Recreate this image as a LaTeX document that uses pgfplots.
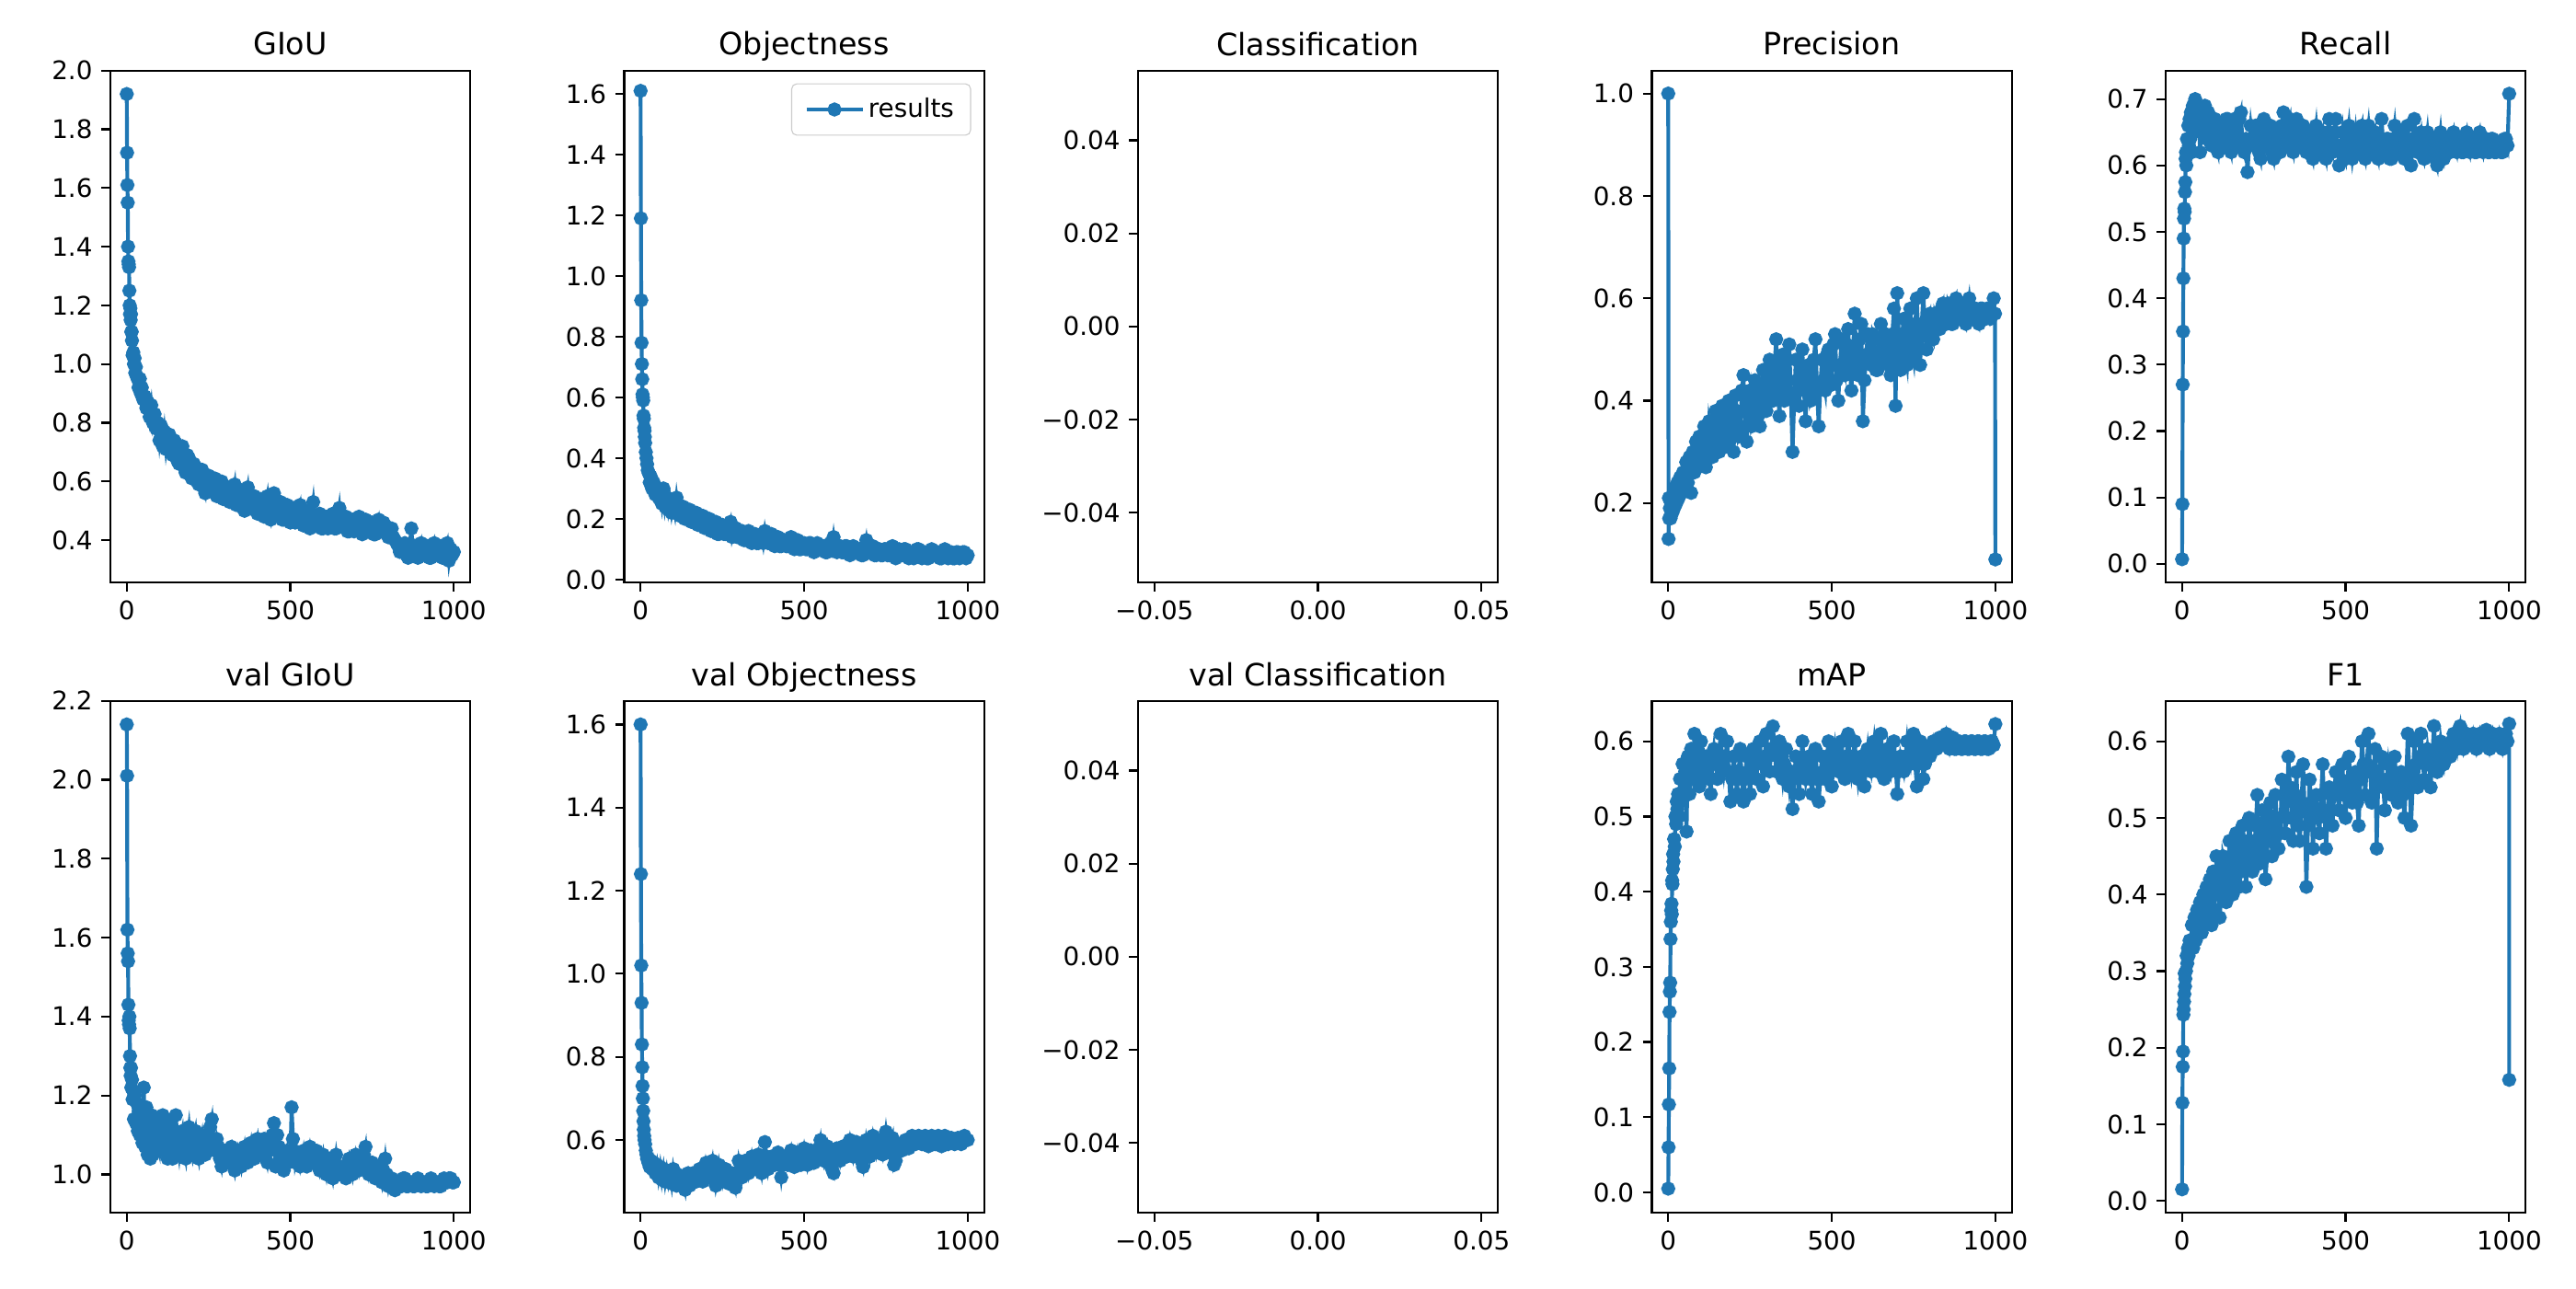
\documentclass[border=0pt]{standalone}
\usepackage{fontspec}
\setmainfont{DejaVu Sans}
\usepackage{pgfplots}
\pgfplotsset{compat=1.18}

\definecolor{mplblue}{RGB}{31,119,180}
\definecolor{legframe}{RGB}{204,204,204}

\pgfplotsset{
  mpl/.style={
    scale only axis, width=140.8pt, height=200.3pt, anchor=south west,
    axis line style={line width=0.8pt},
    tick style={black, line width=0.8pt},
    major tick length=3.5pt, tick align=outside, tick pos=left,
    ticklabel style={font=\fontsize{10}{12}\selectfont},
    title style={font=\fontsize{12}{14}\selectfont, anchor=base},
    xmin=-50, xmax=1050, xtick={0,500,1000}, xticklabels={0,500,1000},
    scaled ticks=false, clip=true,
  },
  run/.style={mplblue, line width=1.5pt, mark=*, mark size=2pt,
    mark options={solid, fill=mplblue, draw=none}},
}

\begin{document}
\begin{tikzpicture}
\path[use as bounding box, fill=white] (0,0) rectangle (1008pt,504pt);

% GIoU
\begin{axis}[mpl, at={(43.2pt,276.1pt)}, title={GIoU},
  ymin=0.256, ymax=2.0, ytick={0.4,0.6,...,2.0},
  yticklabels={0.4,0.6,0.8,1.0,1.2,1.4,1.6,1.8,2.0}]
\addplot[run] coordinates {
(0,1.92) (1,1.72) (2,1.61) (3,1.55) (4,1.40) (5,1.35) (6,1.34) (7,1.33) (8,1.25) (9,1.20)
(10,1.17) (11,1.19) (12,1.15) (13,1.17) (14,1.11) (15,1.11) (16,1.08) (18,1.03) (20,1.04) (22,1.00)
(24,1.02) (26,0.97) (28,0.99) (30,0.96) (33,0.95) (36,0.92) (40,0.95) (43,0.90) (46,0.92) (50,0.88)
(55,0.89) (60,0.85) (65,0.87) (70,0.82) (75,0.86) (80,0.80) (85,0.83) (90,0.78) (95,0.80)
(100,0.74) (105,0.79) (110,0.72) (115,0.77) (120,0.71) (125,0.75) (130,0.76) (135,0.70) (140,0.69) (145,0.74)
(150,0.73) (155,0.67) (160,0.66) (165,0.71) (170,0.72) (175,0.65) (180,0.63) (185,0.69) (190,0.68) (195,0.62)
(200,0.61) (205,0.66) (210,0.65) (215,0.60) (220,0.59) (225,0.63) (230,0.64) (235,0.58) (240,0.56) (245,0.61)
(250,0.62) (255,0.57) (260,0.58) (265,0.61) (270,0.61) (275,0.55) (280,0.55) (285,0.59) (290,0.60) (295,0.54)
(300,0.54) (305,0.57) (310,0.58) (315,0.53) (320,0.53) (325,0.56) (330,0.59) (335,0.52) (340,0.52) (345,0.56)
(350,0.57) (355,0.51) (360,0.50) (365,0.55) (370,0.58) (375,0.52) (380,0.51) (385,0.54) (390,0.55) (395,0.50)
(400,0.49) (405,0.53) (410,0.54) (415,0.49) (420,0.48) (425,0.52) (430,0.55) (435,0.49) (440,0.47) (445,0.51)
(450,0.56) (455,0.49) (460,0.50) (465,0.52) (470,0.53) (475,0.47) (480,0.47) (485,0.51) (490,0.52) (495,0.47)
(500,0.46) (505,0.50) (510,0.51) (515,0.46) (520,0.47) (525,0.50) (530,0.52) (535,0.46) (540,0.45) (545,0.49)
(550,0.50) (555,0.45) (560,0.44) (565,0.49) (570,0.53) (575,0.46) (580,0.45) (585,0.48) (590,0.49) (595,0.44)
(600,0.44) (605,0.47) (610,0.48) (615,0.44) (620,0.45) (625,0.48) (630,0.49) (635,0.44) (640,0.44) (645,0.47)
(650,0.51) (655,0.45) (660,0.45) (665,0.48) (670,0.48) (675,0.43) (680,0.43) (685,0.46) (690,0.47) (695,0.43)
(700,0.44) (705,0.47) (710,0.48) (715,0.43) (720,0.42) (725,0.46) (730,0.47) (735,0.43) (740,0.43) (745,0.46)
(750,0.46) (755,0.42) (760,0.42) (765,0.45) (770,0.47) (775,0.43) (780,0.43) (785,0.46) (790,0.45) (795,0.42)
(800,0.41) (805,0.44) (810,0.44) (815,0.41) (820,0.40) (825,0.39) (830,0.38) (835,0.36) (840,0.37) (845,0.38)
(850,0.39) (855,0.35) (860,0.34) (865,0.38) (870,0.44) (875,0.36) (880,0.38) (885,0.35) (890,0.34) (895,0.37)
(900,0.39) (905,0.35) (910,0.35) (915,0.38) (920,0.38) (925,0.34) (930,0.34) (935,0.37) (940,0.39) (945,0.35)
(950,0.35) (955,0.37) (960,0.38) (965,0.34) (970,0.34) (975,0.37) (980,0.39) (985,0.33) (990,0.37) (995,0.35)
(1000,0.36)
};
\end{axis}

% Objectness
\begin{axis}[mpl, at={(244.26pt,276.1pt)}, title={Objectness},
  ymin=-0.0096, ymax=1.677, ytick={0,0.2,...,1.6},
  yticklabels={0.0,0.2,0.4,0.6,0.8,1.0,1.2,1.4,1.6},
  legend style={at={(0.964,0.975)}, anchor=north east, draw=legframe,
    rounded corners=2pt, font=\fontsize{10}{12}\selectfont,
    inner xsep=5pt, inner ysep=4pt, nodes={inner sep=1.5pt},
    /tikz/every even column/.append style={column sep=9pt}},
  legend image code/.code={\draw[mark repeat=2, mark phase=2, #1]
    plot coordinates {(0pt,0pt) (11pt,0pt) (22pt,0pt)};}]
\addplot[run] coordinates {
(0,1.61) (1,1.19) (2,0.92) (3,0.78) (4,0.71) (5,0.66) (6,0.61) (7,0.60) (8,0.59) (9,0.54)
(10,0.53) (11,0.50) (12,0.49) (13,0.47) (14,0.45) (16,0.42) (18,0.40) (20,0.38) (22,0.36) (25,0.35)
(28,0.32) (31,0.34) (35,0.30) (40,0.32) (45,0.28) (50,0.30) (55,0.27) (60,0.29) (65,0.25) (70,0.30)
(75,0.24) (80,0.27) (85,0.23) (90,0.26) (95,0.22)
(100,0.25) (105,0.22) (110,0.27) (115,0.23) (120,0.21) (125,0.24) (130,0.24) (135,0.20) (140,0.20) (145,0.23)
(150,0.23) (155,0.19) (160,0.19) (165,0.22) (170,0.22) (175,0.18) (180,0.18) (185,0.21) (190,0.21) (195,0.17)
(200,0.17) (205,0.20) (210,0.20) (215,0.16) (220,0.16) (225,0.19) (230,0.19) (235,0.15) (240,0.15) (245,0.18)
(250,0.18) (255,0.15) (260,0.15) (265,0.17) (270,0.17) (275,0.19) (280,0.14) (285,0.16) (290,0.17) (295,0.14)
(300,0.14) (305,0.16) (310,0.16) (315,0.13) (320,0.13) (325,0.15) (330,0.16) (335,0.13) (340,0.12) (345,0.14)
(350,0.15) (355,0.12) (360,0.12) (365,0.14) (370,0.15) (375,0.12) (380,0.16) (385,0.13) (390,0.12) (395,0.14)
(400,0.15) (405,0.12) (410,0.11) (415,0.13) (420,0.14) (425,0.11) (430,0.11) (435,0.13) (440,0.13) (445,0.11)
(450,0.11) (455,0.13) (460,0.14) (465,0.11) (470,0.10) (475,0.12) (480,0.13) (485,0.10) (490,0.10) (495,0.12)
(500,0.12) (505,0.10) (510,0.10) (515,0.12) (520,0.12) (525,0.10) (530,0.09) (535,0.11) (540,0.12) (545,0.10)
(550,0.10) (555,0.11) (560,0.11) (565,0.09) (570,0.09) (575,0.11) (580,0.12) (585,0.10) (590,0.14) (595,0.10)
(600,0.09) (605,0.11) (610,0.11) (615,0.09) (620,0.09) (625,0.11) (630,0.11) (635,0.09) (640,0.08) (645,0.10)
(650,0.11) (655,0.09) (660,0.09) (665,0.10) (670,0.10) (675,0.08) (680,0.08) (685,0.10) (690,0.13) (695,0.09)
(700,0.09) (705,0.10) (710,0.11) (715,0.08) (720,0.08) (725,0.10) (730,0.10) (735,0.08) (740,0.08) (745,0.10)
(750,0.10) (755,0.08) (760,0.08) (765,0.10) (770,0.11) (775,0.08) (780,0.07) (785,0.09) (790,0.10) (795,0.08)
(800,0.08) (805,0.10) (810,0.10) (815,0.08) (820,0.07) (825,0.09) (830,0.09) (835,0.07) (840,0.08) (845,0.10)
(850,0.10) (855,0.08) (860,0.07) (865,0.09) (870,0.09) (875,0.07) (880,0.07) (885,0.09) (890,0.10) (895,0.08)
(900,0.08) (905,0.09) (910,0.09) (915,0.07) (920,0.07) (925,0.09) (930,0.10) (935,0.08) (940,0.07) (945,0.09)
(950,0.09) (955,0.07) (960,0.07) (965,0.09) (970,0.09) (975,0.07) (980,0.08) (985,0.09) (990,0.09) (995,0.07)
(1000,0.08)
};
\addlegendentry{results}
\end{axis}

% Classification (no data)
\begin{axis}[mpl, at={(445.32pt,276.1pt)}, title={Classification},
  xmin=-0.055, xmax=0.055, ymin=-0.055, ymax=0.055,
  xtick={-0.05,0,0.05}, xticklabels={−0.05,0.00,0.05},
  ytick={-0.04,-0.02,0,0.02,0.04}, yticklabels={−0.04,−0.02,0.00,0.02,0.04}]
\end{axis}

% Precision
\begin{axis}[mpl, at={(646.38pt,276.1pt)}, title={Precision},
  ymin=0.045, ymax=1.045, ytick={0.2,0.4,0.6,0.8,1.0},
  yticklabels={0.2,0.4,0.6,0.8,1.0}]
\addplot[run] coordinates {
(0,1.00) (1,0.13) (2,0.21) (3,0.17) (5,0.19) (7,0.17) (9,0.20) (12,0.18) (15,0.21) (18,0.19)
(21,0.23) (25,0.20) (28,0.24) (32,0.21) (36,0.25) (40,0.22) (45,0.26) (50,0.23) (55,0.28) (60,0.24)
(65,0.29) (70,0.22) (75,0.30) (80,0.26) (85,0.32) (90,0.27) (95,0.33)
(100,0.28) (105,0.33) (110,0.35) (115,0.27) (120,0.30) (125,0.36) (130,0.34) (135,0.29) (140,0.30) (145,0.38)
(150,0.36) (155,0.30) (160,0.31) (165,0.39) (170,0.37) (175,0.31) (180,0.32) (185,0.40) (190,0.38) (195,0.33)
(200,0.30) (205,0.41) (210,0.38) (215,0.33) (220,0.34) (225,0.42) (230,0.45) (235,0.35) (240,0.32) (245,0.40)
(250,0.42) (255,0.35) (260,0.36) (265,0.44) (270,0.41) (275,0.37) (280,0.35) (285,0.43) (290,0.46) (295,0.38)
(300,0.38) (305,0.45) (310,0.48) (315,0.40) (320,0.40) (325,0.47) (330,0.52) (335,0.42) (340,0.37) (345,0.45)
(350,0.49) (355,0.40) (360,0.42) (365,0.48) (370,0.51) (375,0.41) (380,0.30) (385,0.40) (390,0.48) (395,0.44)
(400,0.39) (405,0.46) (410,0.50) (415,0.42) (420,0.36) (425,0.44) (430,0.47) (435,0.40) (440,0.41) (445,0.48)
(450,0.52) (455,0.42) (460,0.35) (465,0.43) (470,0.48) (475,0.44) (480,0.42) (485,0.49) (490,0.50) (495,0.43)
(500,0.44) (505,0.51) (510,0.53) (515,0.44) (520,0.40) (525,0.47) (530,0.52) (535,0.46) (540,0.45) (545,0.51)
(550,0.54) (555,0.46) (560,0.42) (565,0.50) (570,0.57) (575,0.48) (580,0.45) (585,0.52) (590,0.55) (595,0.36)
(600,0.44) (605,0.49) (610,0.53) (615,0.48) (620,0.47) (625,0.53) (630,0.52) (635,0.46) (640,0.46) (645,0.52)
(650,0.55) (655,0.49) (660,0.48) (665,0.53) (670,0.52) (675,0.47) (680,0.45) (685,0.53) (690,0.58) (695,0.39)
(700,0.61) (705,0.52) (710,0.46) (715,0.53) (720,0.56) (725,0.49) (730,0.47) (735,0.54) (740,0.58) (745,0.50)
(750,0.48) (755,0.55) (760,0.60) (765,0.52) (770,0.47) (775,0.55) (780,0.61) (785,0.53) (790,0.50) (795,0.56)
(800,0.57) (805,0.53) (810,0.52) (815,0.57) (820,0.56) (825,0.54) (830,0.54) (835,0.58) (840,0.59) (845,0.55)
(850,0.55) (855,0.59) (860,0.58) (865,0.55) (870,0.55) (875,0.59) (880,0.60) (885,0.56) (890,0.56) (895,0.59)
(900,0.59) (905,0.56) (910,0.55) (915,0.58) (920,0.60) (925,0.57) (930,0.56) (935,0.58) (940,0.58) (945,0.56)
(950,0.55) (955,0.58) (960,0.58) (965,0.56) (970,0.56) (975,0.58) (980,0.58) (985,0.56) (990,0.57) (995,0.60)
(999,0.57) (1000,0.09)
};
\end{axis}

% Recall
\begin{axis}[mpl, at={(847.44pt,276.1pt)}, title={Recall},
  ymin=-0.028, ymax=0.743, ytick={0,0.1,...,0.7},
  yticklabels={0.0,0.1,0.2,0.3,0.4,0.5,0.6,0.7}]
\addplot[run] coordinates {
(0,0.007) (1,0.09) (2,0.27) (3,0.35) (4,0.43) (5,0.49) (6,0.52) (7,0.535) (8,0.53) (9,0.56)
(10,0.575) (11,0.61) (12,0.62) (13,0.60) (15,0.64) (17,0.62) (19,0.66) (21,0.63) (23,0.67) (25,0.64)
(27,0.68) (30,0.62) (33,0.69) (36,0.65)
(40,0.70) (45,0.66) (50,0.69) (55,0.62) (60,0.68) (65,0.65) (70,0.69) (75,0.64) (80,0.68) (85,0.66)
(90,0.63) (95,0.67) (100,0.67) (105,0.63) (110,0.62) (115,0.66) (120,0.66) (125,0.63) (130,0.63) (135,0.67)
(140,0.67) (145,0.63) (150,0.62) (155,0.66) (160,0.67) (165,0.63) (170,0.64) (175,0.67) (180,0.68) (185,0.63)
(190,0.62) (195,0.64) (200,0.59) (205,0.63) (210,0.66) (215,0.64) (220,0.63) (225,0.66) (230,0.66) (235,0.62)
(240,0.61) (245,0.65) (250,0.67) (255,0.63) (260,0.63) (265,0.66) (270,0.66) (275,0.62) (280,0.61) (285,0.64)
(290,0.65) (295,0.62) (300,0.62) (305,0.66) (310,0.68) (315,0.64) (320,0.63) (325,0.66) (330,0.67) (335,0.63)
(340,0.62) (345,0.65) (350,0.67) (355,0.63) (360,0.63) (365,0.66) (370,0.66) (375,0.63) (380,0.62) (385,0.64)
(390,0.65) (395,0.62) (400,0.61) (405,0.64) (410,0.66) (415,0.63) (420,0.62) (425,0.64) (430,0.65) (435,0.62)
(440,0.61) (445,0.65) (450,0.67) (455,0.63) (460,0.62) (465,0.65) (470,0.67) (475,0.63) (480,0.60) (485,0.63)
(490,0.65) (495,0.62) (500,0.61) (505,0.64) (510,0.66) (515,0.63) (520,0.61) (525,0.63) (530,0.65) (535,0.62)
(540,0.62) (545,0.65) (550,0.66) (555,0.62) (560,0.61) (565,0.64) (570,0.66) (575,0.63) (580,0.62) (585,0.64)
(590,0.65) (595,0.62) (600,0.61) (605,0.64) (610,0.67) (615,0.63) (620,0.62) (625,0.64) (630,0.64) (635,0.61)
(640,0.61) (645,0.64) (650,0.66) (655,0.63) (660,0.62) (665,0.64) (670,0.65) (675,0.62) (680,0.61) (685,0.64)
(690,0.66) (695,0.62) (700,0.60) (705,0.64) (710,0.67) (715,0.63) (720,0.62) (725,0.64) (730,0.65) (735,0.62)
(740,0.61) (745,0.63) (750,0.65) (755,0.62) (760,0.62) (765,0.64) (770,0.64) (775,0.61) (780,0.60) (785,0.63)
(790,0.65) (795,0.62) (800,0.61) (805,0.63) (810,0.64) (815,0.62) (820,0.62) (825,0.64) (830,0.65) (835,0.63)
(840,0.62) (845,0.64) (850,0.64) (855,0.62) (860,0.62) (865,0.64) (870,0.65) (875,0.63) (880,0.62) (885,0.64)
(890,0.64) (895,0.62) (900,0.62) (905,0.64) (910,0.65) (915,0.63) (920,0.62) (925,0.64) (930,0.64) (935,0.62)
(940,0.62) (945,0.64) (950,0.64) (955,0.62) (960,0.62) (965,0.63) (970,0.63) (975,0.62) (980,0.62) (985,0.64)
(990,0.64) (995,0.63) (1000,0.708)
};
\end{axis}

% val GIoU
\begin{axis}[mpl, at={(43.2pt,29.5pt)}, title={val GIoU},
  ymin=0.903, ymax=2.2, ytick={1.0,1.2,...,2.2},
  yticklabels={1.0,1.2,1.4,1.6,1.8,2.0,2.2}]
\addplot[run] coordinates {
(0,2.14) (1,2.01) (2,1.62) (3,1.56) (4,1.54) (5,1.43) (6,1.39) (7,1.38) (8,1.40) (9,1.37)
(10,1.30) (11,1.27) (12,1.25) (13,1.27) (14,1.22) (16,1.24) (18,1.19) (20,1.21) (22,1.14) (25,1.20)
(28,1.13) (31,1.18) (34,1.11) (37,1.16) (40,1.10) (44,1.14) (48,1.08) (52,1.22) (56,1.07) (60,1.17)
(64,1.05) (68,1.12) (72,1.04) (76,1.15)
(80,1.05) (85,1.10) (90,1.14) (95,1.08) (100,1.06) (105,1.11) (110,1.15) (115,1.10) (120,1.08) (125,1.04)
(130,1.13) (135,1.09) (140,1.04) (145,1.10) (150,1.15) (155,1.08) (160,1.05) (165,1.09) (170,1.11) (175,1.06)
(180,1.04) (185,1.09) (190,1.12) (195,1.07) (200,1.05) (205,1.09) (210,1.11) (215,1.06) (220,1.04) (225,1.08)
(230,1.10) (235,1.06) (240,1.05) (245,1.08) (250,1.09) (255,1.12) (260,1.14) (265,1.08) (270,1.06) (275,1.09)
(280,1.07) (285,1.04) (290,1.02) (295,1.05) (300,1.06) (305,1.04) (310,1.03) (315,1.06) (320,1.07) (325,1.03)
(330,1.01) (335,1.04) (340,1.06) (345,1.04) (350,1.02) (355,1.05) (360,1.07) (365,1.04) (370,1.03) (375,1.06)
(380,1.08) (385,1.05) (390,1.04) (395,1.07) (400,1.09) (405,1.06) (410,1.05) (415,1.08) (420,1.09) (425,1.05)
(430,1.03) (435,1.06) (440,1.08) (445,1.10) (450,1.13) (455,1.02) (460,1.10) (465,1.07) (470,1.04) (475,1.02)
(480,1.01) (485,1.04) (490,1.06) (495,1.03) (500,1.04) (504,1.17) (508,1.09) (512,1.06) (515,1.03) (520,1.05)
(525,1.04) (530,1.02) (535,1.04) (540,1.06) (545,1.03) (550,1.02) (555,1.05) (560,1.07) (565,1.05) (570,1.03)
(575,1.05) (580,1.06) (585,1.03) (590,1.01) (595,1.03) (600,1.05) (605,1.02) (610,1.00) (615,1.03) (620,1.04)
(625,1.01) (630,0.99) (635,1.02) (640,1.05) (645,1.02) (650,1.00) (655,1.01) (660,1.02) (665,1.00) (670,0.99)
(675,1.02) (680,1.04) (685,1.02) (690,1.00) (695,1.03) (700,1.05) (705,1.03) (710,1.01) (715,1.03) (720,1.04)
(725,1.05) (730,1.07) (735,1.02) (740,1.00) (745,1.02) (750,1.03) (755,1.00) (760,0.99) (765,1.01) (770,1.02)
(775,1.00) (780,0.98) (785,1.01) (790,1.04) (795,1.00) (800,0.97) (805,0.99) (810,0.99) (815,0.97) (820,0.96)
(825,0.98) (830,0.98) (835,0.97) (840,0.97) (845,0.99) (850,0.99) (855,0.97) (860,0.97) (865,0.98) (870,0.98)
(875,0.97) (880,0.97) (885,0.98) (890,0.99) (895,0.98) (900,0.97) (905,0.98) (910,0.98) (915,0.97) (920,0.97)
(925,0.98) (930,0.99) (935,0.98) (940,0.97) (945,0.98) (950,0.98) (955,0.97) (960,0.97) (965,0.98) (970,0.99)
(975,0.98) (980,0.98) (985,0.99) (990,0.99) (995,0.98) (1000,0.98)
};
\end{axis}

% val Objectness
\begin{axis}[mpl, at={(244.26pt,29.5pt)}, title={val Objectness},
  ymin=0.425, ymax=1.657, ytick={0.6,0.8,...,1.6},
  yticklabels={0.6,0.8,1.0,1.2,1.4,1.6}]
\addplot[run] coordinates {
(0,1.60) (1,1.24) (2,1.02) (3,0.93) (4,0.83) (5,0.775) (6,0.73) (7,0.70) (8,0.67) (9,0.645)
(10,0.625) (11,0.61) (12,0.60) (14,0.59) (16,0.575) (18,0.565) (20,0.555) (24,0.545) (28,0.535) (32,0.55)
(36,0.53) (40,0.545) (45,0.52) (50,0.54) (55,0.51) (60,0.535) (65,0.505) (70,0.53) (75,0.50) (80,0.525)
(85,0.50) (90,0.52) (95,0.495)
(100,0.53) (105,0.51) (110,0.49) (115,0.50) (120,0.515) (125,0.50) (130,0.50) (136,0.48) (140,0.51) (145,0.52)
(150,0.49) (155,0.50) (160,0.52) (165,0.51) (170,0.50) (175,0.52) (180,0.53) (185,0.51) (190,0.50) (195,0.52)
(200,0.545) (205,0.53) (210,0.51) (215,0.53) (220,0.55) (225,0.52) (230,0.49) (235,0.51) (240,0.54) (245,0.52)
(250,0.50) (255,0.52) (260,0.53) (265,0.51) (270,0.495) (275,0.51) (280,0.52) (285,0.50) (290,0.485) (295,0.52)
(300,0.55) (305,0.53) (310,0.51) (315,0.53) (320,0.55) (325,0.54) (330,0.52) (335,0.54) (340,0.56) (345,0.54)
(350,0.53) (355,0.55) (360,0.565) (365,0.54) (370,0.52) (375,0.55) (380,0.595) (385,0.56) (390,0.53) (395,0.55)
(400,0.56) (405,0.55) (410,0.54) (415,0.56) (420,0.57) (425,0.54) (430,0.51) (435,0.54) (440,0.56) (445,0.55)
(450,0.54) (455,0.56) (460,0.575) (465,0.55) (470,0.535) (475,0.55) (480,0.57) (485,0.55) (490,0.54) (495,0.56)
(500,0.58) (505,0.56) (510,0.54) (515,0.56) (520,0.575) (525,0.56) (530,0.545) (535,0.56) (540,0.57) (545,0.58)
(550,0.60) (555,0.57) (560,0.55) (565,0.57) (570,0.585) (575,0.56) (580,0.54) (585,0.53) (590,0.52) (595,0.56)
(600,0.58) (605,0.57) (610,0.55) (615,0.57) (620,0.585) (625,0.57) (630,0.56) (635,0.58) (640,0.60) (645,0.58)
(650,0.56) (655,0.58) (660,0.595) (665,0.58) (670,0.57) (675,0.55) (680,0.535) (685,0.57) (690,0.60) (695,0.58)
(700,0.56) (705,0.59) (710,0.61) (715,0.59) (720,0.57) (725,0.59) (730,0.60) (735,0.58) (740,0.565) (745,0.59)
(750,0.62) (755,0.59) (760,0.57) (765,0.59) (770,0.605) (775,0.54) (780,0.55) (785,0.57) (790,0.59) (795,0.58)
(800,0.575) (805,0.59) (810,0.60) (815,0.59) (820,0.58) (825,0.60) (830,0.61) (835,0.60) (840,0.59) (845,0.60)
(850,0.61) (855,0.60) (860,0.59) (865,0.60) (870,0.61) (875,0.60) (880,0.585) (885,0.60) (890,0.61) (895,0.60)
(900,0.59) (905,0.60) (910,0.61) (915,0.60) (920,0.585) (925,0.60) (930,0.61) (935,0.60) (940,0.59) (945,0.60)
(950,0.605) (955,0.60) (960,0.59) (965,0.60) (970,0.605) (975,0.60) (980,0.59) (985,0.60) (990,0.61) (995,0.60)
(1000,0.60)
};
\end{axis}

% val Classification (no data)
\begin{axis}[mpl, at={(445.32pt,29.5pt)}, title={val Classification},
  xmin=-0.055, xmax=0.055, ymin=-0.055, ymax=0.055,
  xtick={-0.05,0,0.05}, xticklabels={−0.05,0.00,0.05},
  ytick={-0.04,-0.02,0,0.02,0.04}, yticklabels={−0.04,−0.02,0.00,0.02,0.04}]
\end{axis}

% mAP
\begin{axis}[mpl, at={(646.38pt,29.5pt)}, title={mAP},
  ymin=-0.027, ymax=0.654, ytick={0,0.1,...,0.6},
  yticklabels={0.0,0.1,0.2,0.3,0.4,0.5,0.6}]
\addplot[run] coordinates {
(0,0.005) (1,0.06) (2,0.117) (3,0.165) (4,0.24) (5,0.267) (6,0.279) (7,0.337) (8,0.36) (9,0.375)
(10,0.384) (11,0.37) (12,0.415) (13,0.41) (14,0.43) (15,0.45) (16,0.44) (18,0.47) (20,0.46) (22,0.50)
(24,0.49) (26,0.52) (28,0.51) (30,0.53) (33,0.50) (36,0.55) (40,0.52) (44,0.57) (48,0.53) (52,0.56)
(56,0.48)
(60,0.58) (65,0.53) (70,0.59) (75,0.55) (80,0.61) (85,0.56) (90,0.59) (95,0.54) (100,0.60) (105,0.57)
(110,0.55) (115,0.58) (120,0.58) (125,0.55) (130,0.53) (135,0.57) (140,0.59) (145,0.57) (150,0.55) (155,0.58)
(160,0.61) (165,0.58) (170,0.56) (175,0.58) (180,0.60) (185,0.56) (190,0.52) (195,0.55) (200,0.58) (205,0.56)
(210,0.53) (215,0.56) (220,0.59) (225,0.55) (230,0.52) (235,0.55) (240,0.58) (245,0.56) (250,0.53) (255,0.56)
(260,0.59) (265,0.57) (270,0.55) (275,0.58) (280,0.60) (285,0.57) (290,0.54) (295,0.58) (300,0.61) (305,0.58)
(310,0.56) (315,0.59) (320,0.62) (325,0.59) (330,0.56) (335,0.58) (340,0.60) (345,0.57) (350,0.55) (355,0.57)
(360,0.59) (365,0.56) (370,0.54) (375,0.56) (380,0.51) (385,0.55) (390,0.58) (395,0.56) (400,0.53) (405,0.57)
(410,0.60) (415,0.57) (420,0.55) (425,0.57) (430,0.58) (435,0.55) (440,0.53) (445,0.56) (450,0.59) (455,0.55)
(460,0.52) (465,0.55) (470,0.58) (475,0.56) (480,0.55) (485,0.58) (490,0.60) (495,0.57) (500,0.54) (505,0.57)
(510,0.59) (515,0.57) (520,0.56) (525,0.58) (530,0.60) (535,0.57) (540,0.55) (545,0.58) (550,0.61) (555,0.58)
(560,0.56) (565,0.58) (570,0.60) (575,0.57) (580,0.55) (585,0.57) (590,0.58) (595,0.56) (600,0.54) (605,0.57)
(610,0.59) (615,0.57) (620,0.56) (625,0.58) (630,0.60) (635,0.58) (640,0.56) (645,0.59) (650,0.61) (655,0.58)
(660,0.55) (665,0.57) (670,0.59) (675,0.57) (680,0.56) (685,0.58) (690,0.60) (695,0.57) (700,0.53) (705,0.56)
(710,0.58) (715,0.57) (720,0.56) (725,0.58) (730,0.60) (735,0.58) (740,0.57) (745,0.59) (750,0.61) (755,0.57)
(760,0.54) (765,0.57) (770,0.60) (775,0.58) (780,0.55) (785,0.57) (790,0.59) (795,0.58) (800,0.58) (805,0.59)
(810,0.60) (815,0.59) (820,0.59) (825,0.60) (830,0.605) (835,0.60) (840,0.595) (845,0.60) (850,0.61) (855,0.60)
(860,0.59) (865,0.60) (870,0.605) (875,0.59) (880,0.59) (885,0.60) (890,0.60) (895,0.59) (900,0.59) (905,0.60)
(910,0.60) (915,0.59) (920,0.59) (925,0.60) (930,0.60) (935,0.59) (940,0.59) (945,0.60) (950,0.60) (955,0.59)
(960,0.59) (965,0.60) (970,0.60) (975,0.59) (980,0.59) (985,0.60) (990,0.60) (995,0.595) (1000,0.623)
};
\end{axis}

% F1
\begin{axis}[mpl, at={(847.44pt,29.5pt)}, title={F1},
  ymin=-0.0155, ymax=0.653, ytick={0,0.1,...,0.6},
  yticklabels={0.0,0.1,0.2,0.3,0.4,0.5,0.6}]
\addplot[run] coordinates {
(0,0.015) (1,0.128) (2,0.175) (3,0.195) (4,0.243) (5,0.25) (6,0.26) (7,0.27) (8,0.297) (9,0.28)
(10,0.29) (12,0.30) (14,0.32) (16,0.31) (18,0.33) (20,0.32) (23,0.34) (26,0.33) (30,0.36) (34,0.33)
(38,0.37) (42,0.34) (46,0.38) (50,0.35) (55,0.39) (60,0.35) (65,0.40) (70,0.36) (75,0.41) (80,0.37)
(85,0.42) (90,0.36) (95,0.43)
(100,0.38) (105,0.45) (110,0.43) (115,0.37) (120,0.40) (125,0.45) (130,0.44) (135,0.39) (140,0.41) (145,0.47)
(150,0.45) (155,0.40) (160,0.42) (165,0.48) (170,0.46) (175,0.41) (180,0.43) (185,0.49) (190,0.47) (195,0.41)
(200,0.44) (205,0.50) (210,0.47) (215,0.43) (220,0.45) (225,0.49) (230,0.53) (235,0.44) (240,0.46) (245,0.51)
(250,0.49) (255,0.42) (260,0.45) (265,0.50) (270,0.52) (275,0.45) (280,0.47) (285,0.53) (290,0.50) (295,0.46)
(300,0.48) (305,0.55) (310,0.53) (315,0.48) (320,0.50) (325,0.58) (330,0.54) (335,0.50) (340,0.47) (345,0.53)
(350,0.56) (355,0.49) (360,0.47) (365,0.52) (370,0.57) (375,0.51) (380,0.41) (385,0.49) (390,0.55) (395,0.52)
(400,0.46) (405,0.50) (410,0.53) (415,0.50) (420,0.48) (425,0.53) (430,0.57) (435,0.51) (440,0.46) (445,0.50)
(450,0.54) (455,0.51) (460,0.49) (465,0.53) (470,0.56) (475,0.53) (480,0.51) (485,0.55) (490,0.57) (495,0.53)
(500,0.50) (505,0.54) (510,0.58) (515,0.55) (520,0.52) (525,0.54) (530,0.56) (535,0.52) (540,0.49) (545,0.55)
(550,0.60) (555,0.57) (560,0.53) (565,0.57) (570,0.61) (575,0.56) (580,0.52) (585,0.56) (590,0.59) (595,0.46)
(600,0.55) (605,0.58) (610,0.58) (615,0.54) (620,0.51) (625,0.55) (630,0.57) (635,0.55) (640,0.53) (645,0.56)
(650,0.58) (655,0.55) (660,0.52) (665,0.54) (670,0.56) (675,0.53) (680,0.50) (685,0.55) (690,0.61) (695,0.56)
(700,0.49) (705,0.54) (710,0.60) (715,0.57) (720,0.54) (725,0.58) (730,0.61) (735,0.58) (740,0.55) (745,0.57)
(750,0.59) (755,0.57) (760,0.54) (765,0.58) (770,0.62) (775,0.59) (780,0.56) (785,0.58) (790,0.60) (795,0.58)
(800,0.57) (805,0.59) (810,0.59) (815,0.58) (820,0.58) (825,0.60) (830,0.61) (835,0.60) (840,0.59) (845,0.61)
(850,0.62) (855,0.60) (860,0.59) (865,0.60) (870,0.61) (875,0.60) (880,0.595) (885,0.60) (890,0.61) (895,0.60)
(900,0.59) (905,0.60) (910,0.61) (915,0.60) (920,0.595) (925,0.61) (930,0.615) (935,0.60) (940,0.59) (945,0.60)
(950,0.61) (955,0.60) (960,0.595) (965,0.60) (970,0.61) (975,0.60) (980,0.59) (985,0.60) (990,0.61) (995,0.60)
(1000,0.623) (1000,0.158)
};
\end{axis}
\end{tikzpicture}
\end{document}
